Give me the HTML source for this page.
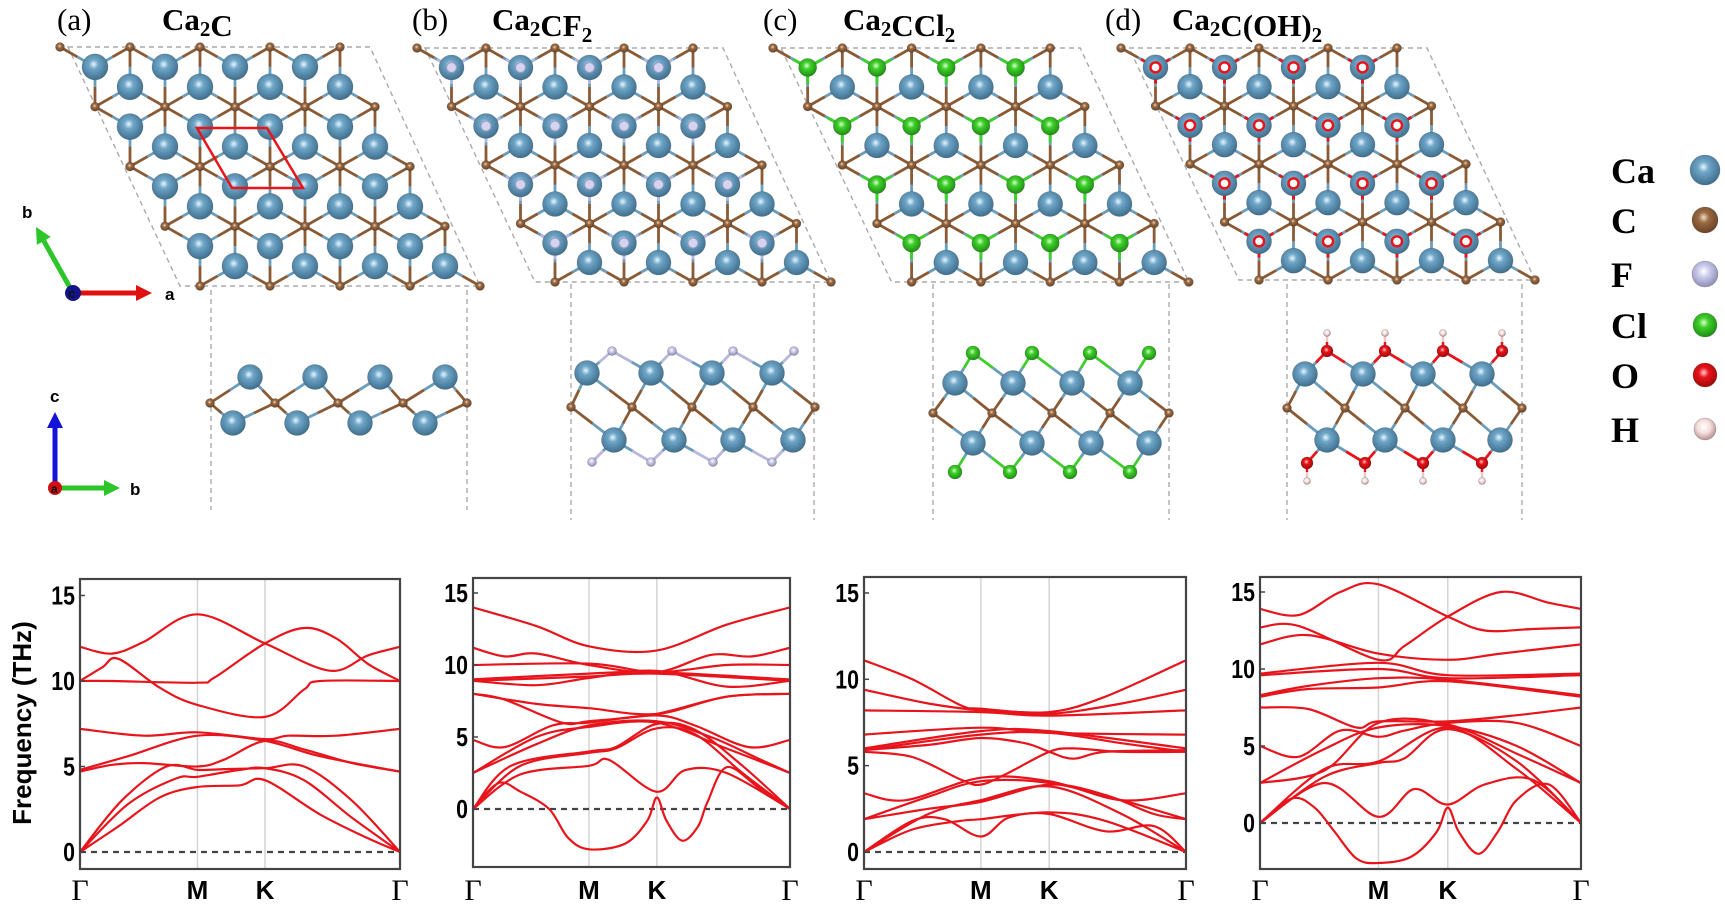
<!DOCTYPE html>
<html><head><meta charset="utf-8">
<style>
html,body{margin:0;padding:0;background:#fff;}
svg{display:block;}
</style></head>
<body>
<svg id="s" width="1725" height="905" viewBox="0 0 1725 905" xmlns="http://www.w3.org/2000/svg">
<defs>
<radialGradient id="gCa" cx="0.45" cy="0.4" r="0.6"><stop offset="0" stop-color="#e8f6ff"/><stop offset="0.3" stop-color="#6fa6c8"/><stop offset="1" stop-color="#3f6f8e"/></radialGradient>
<radialGradient id="gC" cx="0.45" cy="0.4" r="0.6"><stop offset="0" stop-color="#f2dcc4"/><stop offset="0.35" stop-color="#9a6a43"/><stop offset="1" stop-color="#6a4326"/></radialGradient>
<radialGradient id="gF" cx="0.45" cy="0.4" r="0.6"><stop offset="0" stop-color="#ffffff"/><stop offset="0.4" stop-color="#c9c9ea"/><stop offset="1" stop-color="#8e8eb4"/></radialGradient>
<radialGradient id="gCl" cx="0.45" cy="0.4" r="0.6"><stop offset="0" stop-color="#d8ffd0"/><stop offset="0.35" stop-color="#3fcf2a"/><stop offset="1" stop-color="#1e8e14"/></radialGradient>
<radialGradient id="gO" cx="0.45" cy="0.4" r="0.6"><stop offset="0" stop-color="#ffd0d0"/><stop offset="0.35" stop-color="#e8141c"/><stop offset="1" stop-color="#a00808"/></radialGradient>
<radialGradient id="gH" cx="0.45" cy="0.4" r="0.6"><stop offset="0" stop-color="#ffffff"/><stop offset="0.5" stop-color="#f4dede"/><stop offset="1" stop-color="#b89090"/></radialGradient>
</defs>
<g id="root"></g>
</svg>
<script>
(function(){
var root=document.getElementById('root');
var out=[];
function add(s){out.push(s);}
var CA='#6a9cbc',CB='#8a5a34';
function halfBond(x1,y1,c1,x2,y2,c2,w){
  var mx=(x1+x2)/2,my=(y1+y2)/2;
  add('<line x1="'+x1+'" y1="'+y1+'" x2="'+mx+'" y2="'+my+'" stroke="'+c1+'" stroke-width="'+w+'"/>');
  add('<line x1="'+mx+'" y1="'+my+'" x2="'+x2+'" y2="'+y2+'" stroke="'+c2+'" stroke-width="'+w+'"/>');
}
function atom(x,y,r,g){add('<circle cx="'+x+'" cy="'+y+'" r="'+r+'" fill="url(#'+g+')" stroke="#333" stroke-opacity="0.35" stroke-width="0.6"/>');}

function topView(ox,oy,ax,rh,type,rca){
  function C(i,j){return [ox+ax*i+ax/2*j, oy+rh*j];}
  var c00=C(0,0),c40=C(4,0),c44=C(4,4),c04=C(0,4);
  add('<polygon points="'+(c00[0]+8)+','+c00[1]+' '+(c40[0]+30)+','+c40[1]+' '+(c44[0])+','+c44[1]+' '+(c04[0]-20)+','+c04[1]+'" fill="none" stroke="#aaa" stroke-width="1.4" stroke-dasharray="5,4"/>');
  var downs=[],ups=[];
  for(var j=0;j<4;j++)for(var i=0;i<4;i++){
    var a=C(i,j),b=C(i+1,j),c=C(i,j+1),d=C(i+1,j+1);
    downs.push({p:[(a[0]+b[0]+c[0])/3,(a[1]+b[1]+c[1])/3],v:[a,b,c]});
    ups.push({p:[(b[0]+c[0]+d[0])/3,(b[1]+c[1]+d[1])/3],v:[b,c,d]});
  }
  var col2=type=='Cl'?'#3fcf2a':(type=='OH'?'#e8141c':(type=='F'?'#b8b8dc':CA));
  ups.forEach(function(u){u.v.forEach(function(v){halfBond(u.p[0],u.p[1],CA,v[0],v[1],CB,2.8);});});
  downs.forEach(function(u){u.v.forEach(function(v){halfBond(u.p[0],u.p[1],CA,v[0],v[1],CB,2.8);});});
  if(type=='Cl'||type=='OH'||type=='F'){
    downs.forEach(function(u){u.v.forEach(function(v){
      var x2=u.p[0]+(v[0]-u.p[0])*0.42,y2=u.p[1]+(v[1]-u.p[1])*0.42;
      add('<line x1="'+u.p[0]+'" y1="'+u.p[1]+'" x2="'+x2+'" y2="'+y2+'" stroke="'+col2+'" stroke-width="3"/>');});});
  }
  for(var j=0;j<5;j++)for(var i=0;i<5;i++){var p=C(i,j);atom(p[0],p[1],4.5,'gC');}
  ups.forEach(function(u){atom(u.p[0],u.p[1],rca,'gCa');});
  downs.forEach(function(u){
    if(type=='Cl'){atom(u.p[0],u.p[1],9,'gCl');}
    else{atom(u.p[0],u.p[1],rca,'gCa');
      if(type=='F')add('<circle cx="'+u.p[0]+'" cy="'+u.p[1]+'" r="5" fill="#d4d4f0" stroke="#9a9ac0" stroke-width="1"/>');
      if(type=='OH')add('<circle cx="'+u.p[0]+'" cy="'+u.p[1]+'" r="5" fill="#fff" stroke="#e8141c" stroke-width="2.5"/>');
    }
  });
}
topView(60,47,70,59.75,'',13);
topView(417,48,69,58.5,'F',12.5);
topView(773,48,69.3,58.5,'Cl',12.5);
topView(1121,48,69,58,'OH',12.5);
add('<polygon points="197,128 267,128 303,188 232,188" fill="none" stroke="#e8141c" stroke-width="2.5"/>');

function dashedV(x,y1,y2){add('<line x1="'+x+'" y1="'+y1+'" x2="'+x+'" y2="'+y2+'" stroke="#aaa" stroke-width="1.4" stroke-dasharray="5,4"/>');}
dashedV(211,290,510);dashedV(467,290,510);
dashedV(571,284,520);dashedV(814,284,520);
dashedV(933,284,520);dashedV(1169,284,520);
dashedV(1287,284,520);dashedV(1522,284,520);
function side(Cs,Cas,Xs,Hs,xg,xc,rX){
  function d(a,b){return Math.hypot(a[0]-b[0],a[1]-b[1]);}
  Cs.forEach(function(c){Cas.forEach(function(a){if(d(c,a)<72)halfBond(a[0],a[1],CA,c[0],c[1],CB,2.8);});});
  Xs.forEach(function(x){Cas.forEach(function(a){if(d(x,a)<70)halfBond(a[0],a[1],CA,x[0],x[1],xc,2.8);});});
  Hs.forEach(function(h){Xs.forEach(function(x){if(d(x,h)<22)halfBond(x[0],x[1],xc,h[0],h[1],'#e8c8c8',2.5);});});
  Cs.forEach(function(c){atom(c[0],c[1],4.5,'gC');});
  Cas.forEach(function(a){atom(a[0],a[1],12.5,'gCa');});
  Xs.forEach(function(x){atom(x[0],x[1],rX,xg);});
  Hs.forEach(function(h){atom(h[0],h[1],3.5,'gH');});
}
function row(xs,y){return xs.map(function(x){return [x,y];});}
side(row([210,275,338,403,467],403),row([250,315,380,445],377).concat(row([233,297,360,425],423)),[],[],'gF','#bbb',5);
side(row([571,632,692,753,815],407),row([587,651,712,772],373).concat(row([614,674,733,793],440)),row([612,672,733,794],351).concat(row([592,651,713,772],462)),[],'gF','#b8b8dc',4.5);
side(row([933,992,1052,1110,1169],413),row([955,1013,1072,1130],383).concat(row([973,1032,1091,1149],443)),row([973,1032,1090,1149],353).concat(row([955,1010,1070,1130],472)),[],'gCl','#3fcf2a',7);
side(row([1287,1345,1405,1463,1522],408),row([1305,1363,1423,1482],374).concat(row([1327,1385,1443,1500],440)),row([1327,1385,1443,1502],351).concat(row([1307,1365,1423,1482],463)),row([1327,1385,1443,1502],333).concat(row([1307,1365,1423,1482],481)),'gO','#e8141c',6);

function arrow(x1,y1,x2,y2,col){
  var ang=Math.atan2(y2-y1,x2-x1),L=16,W=8;
  var bx=x2-L*Math.cos(ang),by=y2-L*Math.sin(ang);
  add('<line x1="'+x1+'" y1="'+y1+'" x2="'+bx+'" y2="'+by+'" stroke="'+col+'" stroke-width="5"/>');
  var px=-Math.sin(ang)*W,py=Math.cos(ang)*W;
  add('<polygon points="'+x2+','+y2+' '+(bx+px)+','+(by+py)+' '+(bx-px)+','+(by-py)+'" fill="'+col+'"/>');
}
arrow(73,293,36,227,'#2cc52a');arrow(73,293,152,293,'#e01010');
add('<circle cx="73" cy="293" r="8" fill="#14148a"/>');
add('<text x="68" y="298" font-family="Liberation Sans,sans-serif" font-size="13" font-weight="bold" fill="#111">c</text>');
add('<text x="22" y="218" font-family="Liberation Sans,sans-serif" font-size="17" font-weight="bold">b</text>');
add('<text x="165" y="300" font-family="Liberation Sans,sans-serif" font-size="17" font-weight="bold">a</text>');
arrow(55,488,55,412,'#1414d8');arrow(55,488,120,488,'#2cc52a');
add('<circle cx="55" cy="488" r="7" fill="#d01010"/>');
add('<text x="51" y="493" font-family="Liberation Sans,sans-serif" font-size="12" font-weight="bold">a</text>');
add('<text x="50" y="402" font-family="Liberation Sans,sans-serif" font-size="17" font-weight="bold">c</text>');
add('<text x="130" y="495" font-family="Liberation Sans,sans-serif" font-size="17" font-weight="bold">b</text>');

var TS='font-family="Liberation Serif,serif"';
function title(lx,lab,tx,parts){
  add('<text x="'+lx+'" y="30" '+TS+' font-size="31">('+lab+')</text>');
  var s='<text x="'+tx+'" y="30" '+TS+' font-size="31" font-weight="bold">';
  parts.forEach(function(p){ if(p[1])s+='<tspan dy="6" font-size="21">'+p[0]+'</tspan><tspan dy="-6"></tspan>'; else s+=p[0];});
  add(s+'</text>');
}
title(57,'a',162,[['Ca'],['2',1],['C']]);
title(412,'b',492,[['Ca'],['2',1],['CF'],['2',1]]);
title(763,'c',843,[['Ca'],['2',1],['CCl'],['2',1]]);
title(1105,'d',1172,[['Ca'],['2',1],['C(OH)'],['2',1]]);

var leg=[['Ca',183,'gCa',15],['C',233,'gC',13],['F',287,'gF',13],['Cl',338,'gCl',12],['O',388,'gO',12],['H',442,'gH',11]];
leg.forEach(function(l){
  add('<text x="1611" y="'+l[1]+'" '+TS+' font-size="36" font-weight="bold">'+l[0]+'</text>');
  atom(1705,l[1]-13,l[3],l[2]);
});

function pathFrom(pts){
  var s='M'+pts[0][0].toFixed(1)+','+pts[0][1].toFixed(1);
  for(var i=0;i<pts.length-1;i++){
    var p0=pts[i-1]||pts[i],p1=pts[i],p2=pts[i+1],p3=pts[i+2]||p2;
    var c1=[p1[0]+(p2[0]-p0[0])/6,p1[1]+(p2[1]-p0[1])/6];
    var c2=[p2[0]-(p3[0]-p1[0])/6,p2[1]-(p3[1]-p1[1])/6];
    s+=' C'+c1[0].toFixed(1)+','+c1[1].toFixed(1)+' '+c2[0].toFixed(1)+','+c2[1].toFixed(1)+' '+p2[0].toFixed(1)+','+p2[1].toFixed(1);
  }
  return s;
}
var A=[
[[0,0],[0.12,1.5],[0.25,3.2],[0.367,3.8],[0.5,3.9],[0.578,4.2],[0.75,2.2],[0.9,0.8],[1,0]],
[[0,0],[0.15,2.8],[0.3,4.3],[0.367,4.4],[0.5,4.8],[0.578,4.9],[0.7,4.2],[0.85,2],[1,0]],
[[0,0],[0.13,3],[0.27,5],[0.367,4.8],[0.45,4.85],[0.578,4.9],[0.7,5.0],[0.85,3],[1,0]],
[[0,4.7],[0.1,5.1],[0.2,5.2],[0.367,5.0],[0.45,5.4],[0.578,6.5],[0.7,6.0],[0.85,5.2],[1,4.7]],
[[0,4.8],[0.15,5.6],[0.367,6.8],[0.578,6.5],[0.75,5.6],[1,4.7]],
[[0,7.2],[0.2,6.8],[0.367,7.0],[0.578,6.6],[0.65,6.8],[0.8,6.8],[1,7.2]],
[[0,10],[0.1,10],[0.367,9.9],[0.42,10.2],[0.578,12.2],[0.7,13.1],[0.8,12.5],[0.9,11],[1,10]],
[[0,10],[0.07,10.8],[0.12,11.3],[0.25,9.6],[0.367,8.6],[0.578,7.9],[0.7,9.5],[0.75,10],[1,10]],
[[0,12],[0.1,11.6],[0.2,12.3],[0.367,13.9],[0.578,12.2],[0.78,10.6],[0.9,11.5],[1,12]]];
var B=[
[[0,0],[0.08,1.8],[0.15,1.2],[0.24,0],[0.3,-2],[0.366,-2.8],[0.48,-2.4],[0.55,-0.8],[0.58,0.8],[0.61,-0.8],[0.66,-2.2],[0.71,-1.2],[0.74,0.5],[0.8,2.9],[0.9,1.5],[1,0]],
[[0,0],[0.15,2.4],[0.366,3.0],[0.43,3.4],[0.578,1.2],[0.67,2.7],[0.8,2.5],[1,0]],
[[0,0],[0.15,3],[0.366,3.9],[0.45,4.2],[0.578,5.6],[0.7,5.2],[0.85,2.5],[1,0]],
[[0,0],[0.12,3],[0.366,4],[0.45,4.3],[0.578,5.9],[0.7,5.5],[0.85,3],[1,0]],
[[0,2.5],[0.2,4.5],[0.366,5.8],[0.578,6.1],[0.75,5.0],[0.9,3.5],[1,2.5]],
[[0,2.5],[0.2,5],[0.366,5.7],[0.578,6.0],[0.8,4.2],[1,2.5]],
[[0,4.8],[0.1,4.3],[0.25,5.8],[0.366,6.0],[0.578,6.5],[0.7,5.8],[0.87,4.3],[1,4.8]],
[[0,8],[0.1,7.6],[0.28,6.0],[0.366,6.1],[0.578,6.6],[0.8,7.8],[1,8]],
[[0,8],[0.2,7.3],[0.366,7.0],[0.578,6.6],[0.8,7.8],[1,8]],
[[0,8.9],[0.2,8.6],[0.366,9.1],[0.578,9.6],[0.8,8.5],[1,8.9]],
[[0,8.9],[0.366,9.2],[0.578,9.4],[1,8.9]],
[[0,9.0],[0.366,9.4],[0.578,9.5],[1,9.0]],
[[0,10],[0.366,10.1],[0.578,9.5],[0.8,10],[1,10]],
[[0,11.2],[0.1,10.6],[0.2,10.8],[0.366,10.0],[0.578,9.5],[0.75,10.7],[0.88,10.6],[1,11.2]],
[[0,14],[0.2,12.7],[0.366,11.3],[0.578,11.0],[0.8,12.8],[1,14]]];
var Cb=[
[[0,0],[0.15,1.8],[0.25,1.9],[0.363,0.9],[0.45,2],[0.575,2.2],[0.75,1.2],[0.9,1.5],[1,0]],
[[0,0],[0.15,1.3],[0.3,1.8],[0.363,1.9],[0.575,2.3],[0.75,1.8],[1,0]],
[[0,0],[0.2,2.2],[0.363,3],[0.575,3.8],[0.8,2.2],[1,0]],
[[0,1.9],[0.2,2.5],[0.363,2.9],[0.575,3.9],[0.75,3.3],[0.9,2.2],[1,1.9]],
[[0,1.9],[0.2,3.2],[0.363,4.1],[0.575,4.0],[0.8,3],[1,1.9]],
[[0,3.4],[0.13,3.0],[0.363,4.3],[0.575,4.1],[0.8,3],[1,3.4]],
[[0,5.8],[0.15,5.5],[0.3,4.2],[0.363,3.9],[0.45,4.6],[0.575,5.8],[0.65,6.0],[0.8,5.8],[1,5.8]],
[[0,5.9],[0.2,6.2],[0.363,6.6],[0.5,6.3],[0.575,5.8],[0.65,5.4],[0.75,5.8],[1,5.9]],
[[0,5.9],[0.363,6.8],[0.575,6.9],[0.8,6.3],[1,5.8]],
[[0,6.0],[0.363,7.0],[0.575,7.0],[1,6.0]],
[[0,6.8],[0.363,7.2],[0.575,6.9],[1,6.8]],
[[0,8.2],[0.363,8.1],[0.575,7.9],[1,8.2]],
[[0,9.4],[0.2,8.6],[0.363,8.2],[0.575,8.0],[0.8,8.6],[1,9.4]],
[[0,11.1],[0.15,10],[0.3,8.5],[0.363,8.3],[0.575,8.1],[0.75,9],[1,11.1]]];
var D=[
[[0,0],[0.1,1.6],[0.17,1],[0.23,-0.5],[0.3,-2.3],[0.369,-2.6],[0.47,-2.2],[0.55,-0.6],[0.585,1],[0.62,-0.6],[0.68,-2],[0.74,-0.6],[0.8,1.5],[0.9,2.5],[1,0]],
[[0,0],[0.2,2.6],[0.369,0.4],[0.48,2.2],[0.585,1.2],[0.7,2.5],[0.85,2.8],[1,0]],
[[0,0],[0.2,3],[0.369,3.9],[0.45,4.2],[0.585,6.1],[0.8,4],[1,0]],
[[0,0],[0.2,3.5],[0.369,4],[0.585,6.2],[0.8,3.5],[1,0]],
[[0,2.6],[0.2,4.8],[0.369,6.2],[0.585,6.3],[0.8,5],[1,2.6]],
[[0,2.6],[0.2,3.4],[0.369,6.5],[0.585,6.4],[0.8,4.5],[1,2.6]],
[[0,5],[0.12,4.3],[0.25,6],[0.369,5.6],[0.45,6],[0.585,6.5],[0.8,6.5],[1,5]],
[[0,7.5],[0.15,7.4],[0.3,6.2],[0.369,6.6],[0.585,6.6],[0.8,7],[1,7.5]],
[[0,8.2],[0.15,8.7],[0.369,8.8],[0.585,9.2],[1,8.2]],
[[0,8.3],[0.15,8.9],[0.369,9.4],[0.585,9.3],[1,8.3]],
[[0,9.6],[0.369,10],[0.585,9.4],[1,9.6]],
[[0,9.7],[0.369,10.4],[0.585,9.6],[1,9.7]],
[[0,11.6],[0.15,12.2],[0.369,11],[0.585,10.6],[0.75,11],[1,11.6]],
[[0,12.7],[0.12,12.8],[0.369,10.6],[0.45,11.5],[0.585,13.4],[0.75,15],[0.9,14.3],[1,13.9]],
[[0,13.9],[0.12,13.5],[0.25,15],[0.369,15.5],[0.585,13.4],[0.7,12.5],[0.85,12.6],[1,12.7]]];
var P=[
{x0:80,x1:400,z:852,s:17.1,top:579,bot:869,m:.367,k:.578,b:A},
{x0:473,x1:790,z:809,s:14.4,top:578,bot:867,m:.366,k:.58,b:B},
{x0:864,x1:1186,z:852,s:17.27,top:577,bot:869,m:.363,k:.575,b:Cb},
{x0:1260,x1:1581,z:823,s:15.4,top:577,bot:869,m:.369,k:.585,b:D}];
var SF='font-family="Liberation Sans,sans-serif" font-weight="bold"';
P.forEach(function(p,idx){
  var w=p.x1-p.x0;
  var X=function(t){return p.x0+t*w;},Y=function(f){return p.z-f*p.s;};
  add('<clipPath id="cp'+idx+'"><rect x="'+p.x0+'" y="'+p.top+'" width="'+w+'" height="'+(p.bot-p.top)+'"/></clipPath>');
  [p.m,p.k].forEach(function(t){add('<line x1="'+X(t)+'" y1="'+p.top+'" x2="'+X(t)+'" y2="'+p.bot+'" stroke="#d4d4d4" stroke-width="1.5"/>');});
  add('<line x1="'+p.x0+'" y1="'+Y(0)+'" x2="'+p.x1+'" y2="'+Y(0)+'" stroke="#444" stroke-width="2.2" stroke-dasharray="6,5"/>');
  var g='<g clip-path="url(#cp'+idx+')" fill="none" stroke="#e8141c" stroke-width="2.2">';
  p.b.forEach(function(band){g+='<path d="'+pathFrom(band.map(function(q){return [X(q[0]),Y(q[1])];}))+'"/>';});
  add(g+'</g>');
  add('<rect x="'+p.x0+'" y="'+p.top+'" width="'+w+'" height="'+(p.bot-p.top)+'" fill="none" stroke="#444" stroke-width="2.2"/>');
  [0,5,10,15].forEach(function(f){
    add('<line x1="'+p.x0+'" y1="'+Y(f)+'" x2="'+(p.x0+5)+'" y2="'+Y(f)+'" stroke="#444" stroke-width="1.5"/>');
    add('<text x="'+(p.x0-5)+'" y="'+(Y(f)+9)+'" text-anchor="end" '+SF+' font-size="26" transform="translate('+(p.x0-5)+',0) scale(0.82,1) translate('+(-(p.x0-5))+',0)">'+f+'</text>');
  });
  add('<text x="'+X(0)+'" y="900" text-anchor="middle" font-family="Liberation Serif,serif" font-size="30">Γ</text>');
  add('<text x="'+X(1)+'" y="900" text-anchor="middle" font-family="Liberation Serif,serif" font-size="30">Γ</text>');
  add('<text x="'+X(p.m)+'" y="899" text-anchor="middle" '+SF+' font-size="26">M</text>');
  add('<text x="'+X(p.k)+'" y="899" text-anchor="middle" '+SF+' font-size="26">K</text>');
});
add('<text x="0" y="0" transform="translate(31,723) rotate(-90)" text-anchor="middle" '+SF+' font-size="26">Frequency (THz)</text>');
root.innerHTML=out.join('');
})();
</script>
</body></html>
